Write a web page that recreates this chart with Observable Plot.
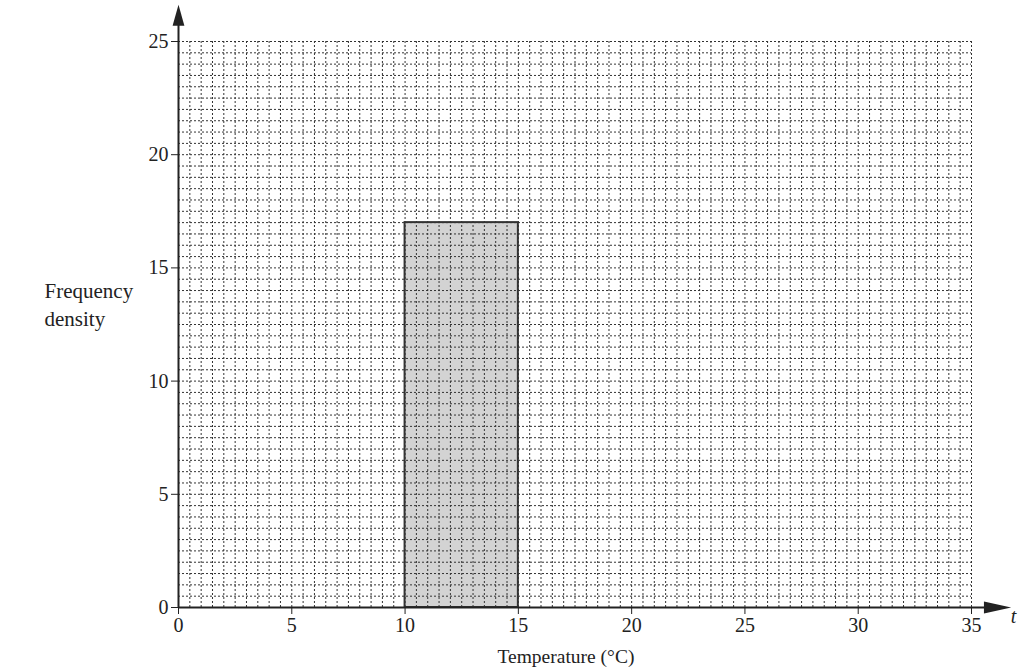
<!DOCTYPE html>
<html>
<head>
<meta charset="utf-8">
<script src="https://cdn.jsdelivr.net/npm/d3@7"></script>
<script src="https://cdn.jsdelivr.net/npm/@observablehq/plot@0.6"></script>
<style>
  html, body { margin: 0; padding: 0; background: white; }
</style>
</head>
<body>
<div id="chart"></div>
<script>
// Data
const xTicks = [0, 5, 10, 15, 20, 25, 30, 35];
const yTicks = [0, 5, 10, 15, 20, 25];
const bars = [{ from: 10, to: 15, density: 17 }];
const xLabel = "Temperature (°C)";
const yLabel = "Frequency\ndensity";
const xVar = "t";

const xMax = 35, yMax = 25, gridStep = 0.5;
const gx = d3.range(0, xMax + 1e-9, gridStep);
const gy = d3.range(0, yMax + 1e-9, gridStep);

const ink = "#222";
const xArrow = [{x: 35.55, y: 0.27}, {x: 36.75, y: 0}, {x: 35.55, y: -0.27}];
const yArrow = [{x: -0.26, y: 25.7}, {x: 0, y: 26.62}, {x: 0.26, y: 25.7}];

const chart = Plot.plot({
  width: 1023,
  height: 672,
  marginLeft: 178,
  marginRight: 52,
  marginTop: 41,
  marginBottom: 65,
  x: { domain: [0, xMax] },
  y: { domain: [0, yMax] },
  style: { fontFamily: "'Liberation Serif', 'Times New Roman', serif", fontSize: "20px", background: "white", overflow: "visible", color: ink },
  marks: [
    Plot.rectY(bars, { x1: "from", x2: "to", y1: 0, y2: "density", fill: "#d3d3d3" }),
    Plot.ruleX(gx, { y1: 0, y2: yMax, stroke: "#333", strokeWidth: 1, strokeDasharray: "2,2" }),
    Plot.ruleY(gy, { x1: 0, x2: xMax, stroke: "#333", strokeWidth: 1, strokeDasharray: "2,2" }),
    Plot.rectY(bars, { x1: "from", x2: "to", y1: 0, y2: "density", fill: "none", stroke: "#333", strokeWidth: 2 }),
    Plot.ruleY([0], { x1: 0, x2: 36, stroke: ink, strokeWidth: 2 }),
    Plot.ruleX([0], { y1: 0, y2: 26, stroke: ink, strokeWidth: 2 }),
    Plot.line(xArrow, { x: "x", y: "y", fill: ink, stroke: "none" }),
    Plot.line(yArrow, { x: "x", y: "y", fill: ink, stroke: "none" }),
    Plot.axisX({ ticks: xTicks, tickSize: 7, tickPadding: 3, label: null, fontSize: 20, tickFormat: d => d }),
    Plot.axisY({ ticks: yTicks, tickSize: 7, tickPadding: 3, label: null, fontSize: 20, tickFormat: d => d }),
    Plot.text([xLabel], { x: 17.1, frameAnchor: "bottom", dy: 55, text: d => d, fontSize: 19.5, fill: ink }),
    Plot.text([yLabel], { y: 13.45, frameAnchor: "left", dx: -134, textAnchor: "start", lineHeight: 1.33, text: d => d, fontSize: 21, fill: ink }),
    Plot.text([xVar], { x: 36.85, frameAnchor: "bottom", dy: 15, text: d => d, fontSize: 20, fontStyle: "italic", fill: ink })
  ]
});
document.getElementById("chart").appendChild(chart);
</script>
</body>
</html>
